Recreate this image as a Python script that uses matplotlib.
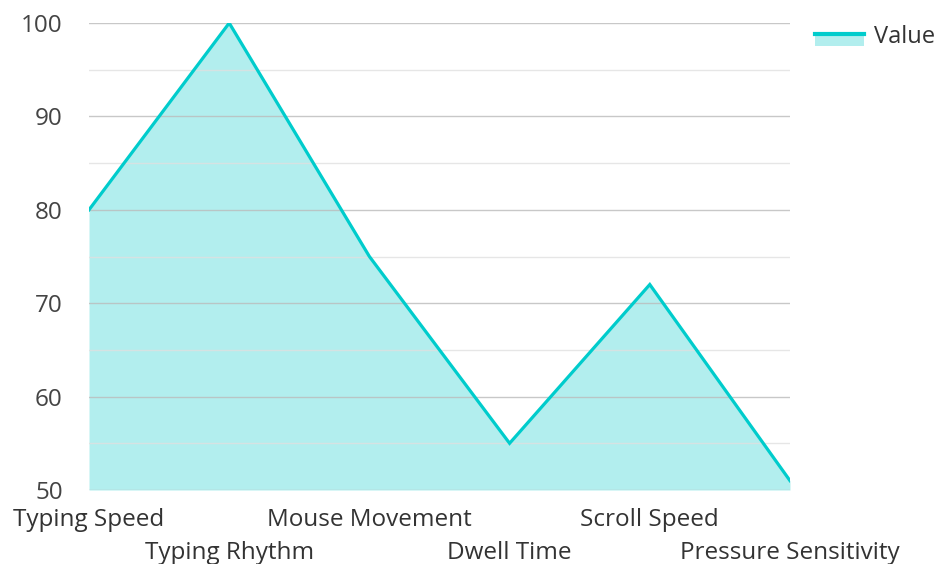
import matplotlib
matplotlib.use("Agg")
import matplotlib.pyplot as plt
from matplotlib.legend_handler import HandlerBase
from matplotlib.patches import Rectangle
from matplotlib.lines import Line2D

plt.rcParams["font.family"] = ["Open Sans", "DejaVu Sans"]

# Dados
categories = ["Typing Speed", "Typing Rhythm", "Mouse Movement",
              "Dwell Time", "Scroll Speed", "Pressure Sensitivity"]
values = [80, 100, 75, 55, 72, 51]
y_ticks = [50, 60, 70, 80, 90, 100]
series_name = "Value"

line_color = "#00cccc"
fill_color = "#b2eeee"


# Marcador da legenda: faixa preenchida com a linha em cima
class AreaHandler(HandlerBase):
    def create_artists(self, legend, orig, xd, yd, w, h, fontsize, trans):
        rect = Rectangle((xd, yd - h * 0.2), w, h * 0.75,
                         facecolor=fill_color, edgecolor="none", transform=trans)
        line = Line2D([xd, xd + w], [yd + h * 0.55, yd + h * 0.55],
                      color=line_color, lw=3, transform=trans)
        return [rect, line]


fig = plt.figure(figsize=(9.4, 5.64), dpi=100)
ax = fig.add_axes([0.0947, 0.1312, 0.7457, 0.828])

x = list(range(len(categories)))
ax.fill_between(x, values, y_ticks[0], color=fill_color, lw=0, zorder=1)
line, = ax.plot(x, values, color=line_color, lw=2.3, zorder=3,
                solid_joinstyle="miter")

ax.set_xlim(0, len(categories) - 1)
ax.set_ylim(50, 100)
ax.set_yticks(y_ticks)
ax.set_yticks([55, 65, 75, 85, 95], minor=True)
ax.set_axisbelow(False)
ax.grid(axis="y", which="major", color="#bbbbbb", lw=1, alpha=0.8)
ax.grid(axis="y", which="minor", color="#e0e0e0", lw=1, alpha=0.8)

for s in ax.spines.values():
    s.set_visible(False)

ax.set_xticks(x)
ax.set_xticklabels(categories)
ax.tick_params(axis="both", which="both", length=0, labelsize=17.5,
               labelcolor="#333333")
ax.tick_params(axis="y", pad=19, labelcolor="#444444")
for i, t in enumerate(ax.xaxis.get_major_ticks()):
    t.set_pad(37 if i % 2 else 13)

ax.legend([line], [series_name], handler_map={line: AreaHandler()},
          loc="upper left", bbox_to_anchor=(1.005, 1.041), frameon=False,
          fontsize=17, handlelength=2.1, handletextpad=0.4,
          labelcolor="#333333")

fig.savefig("out.png", dpi=100)
